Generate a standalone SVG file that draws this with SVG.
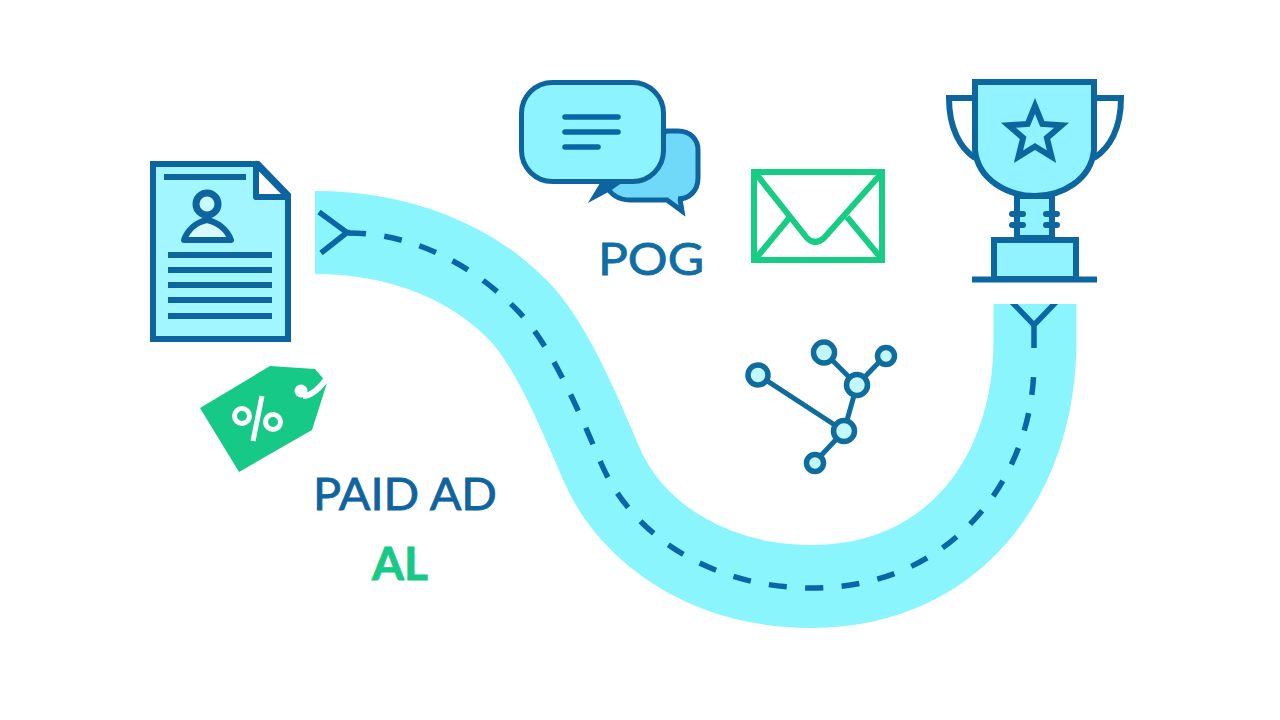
<svg xmlns="http://www.w3.org/2000/svg" width="1280" height="720" viewBox="0 0 1280 720">
<defs><clipPath id="roadTop"><rect x="980" y="304" width="110" height="60"/></clipPath></defs>
<style>
.b{fill:none;stroke:#0e669f;stroke-width:6}
.f{fill:#90f3ff;stroke:#0e669f;stroke-width:6}
.l{fill:none;stroke:#0a66a6;stroke-width:5.500}
.r{stroke-linecap:round}
.g{fill:none;stroke:#17cd84;stroke-width:6}
.t{font-family:"Lato","Liberation Sans",sans-serif;font-size:45px;stroke-width:.8px}
.n{fill:#c2f8fb;stroke:#0f6d9e;stroke-width:5.500}
.e{stroke:#0f6d9e;stroke-width:5;fill:none}
</style>
<rect width="1280" height="720" fill="#fff"/>
<g id="connectors">
<path id="road" d="M315 232.500C400 232.500 470 262 517 309C550 342 578 409 601 463C633 538 715 586.500 812 586.500C950 586.500 1035 480 1035 340L1035 304" fill="none" stroke="#8bf5fe" stroke-width="83"/>
<path id="route" d="M348 233C410 233 470 262 517 310C550 343 578 409 601 463C633 538 715 588 812 588C950 588 1034 480 1034 362" class="l" stroke-dasharray="18 18.400"/>
<path d="M319 212L347 232.500L321 253M345 232.500H350" class="l"/>
<path d="M1008 298L1034 325L1060 298M1034 325V348" class="l" stroke-width="6" clip-path="url(#roadTop)"/>
</g>
<g id="resume">
<path d="M153 164H258L288 195V339H153Z" fill="#a2f6ff" stroke="#0e649f" stroke-width="6"/>
<path d="M256 164V197H288Z" fill="#fff" stroke="#0e649f" stroke-width="6" stroke-linejoin="round"/>
<path d="M164 177H246M168 255H272M168 270H272M168 285H272M168 300H272M168 316H272" class="b"/>
<circle cx="207" cy="204" r="11" fill="#c8fbff" stroke="#0e649f" stroke-width="7"/>
<path d="M184 240C188 229 197 222 207 220C217 222 227 229 231 240Z" fill="#d6fcff" stroke="#0e649f" stroke-width="6" stroke-linejoin="round"/>
</g>
<g id="tag">
<path d="M200 408L270 366L315 369L327 383L312 430L239 472Z" fill="#17c986"/>
<path d="M303 396C312 396 320 388 328 377" fill="none" stroke="#fff" stroke-width="6"/>
<circle cx="301" cy="391" r="6.500" fill="#fff"/>
<path d="M262 396L253 441" stroke="#fff" stroke-width="5" fill="none"/>
<circle cx="242" cy="416" r="7.500" fill="none" stroke="#fff" stroke-width="5"/>
<circle cx="273" cy="422" r="7.500" fill="none" stroke="#fff" stroke-width="5"/>
</g>
<g id="chat">
<path d="M666 131H678C691 131 698 140 698 150V178C698 191 689 199 678 199H680L682 211L667 200H630C617 200 610 194 605 184L650 150Z" fill="#70d8f9" stroke="#0e649f" stroke-width="5"/>
<rect x="521.500" y="82.500" width="142" height="99" rx="31" fill="#8df3ff" stroke="#0e649f" stroke-width="5"/>
<path d="M603 181L592 199L609 190L622 181Z" fill="#0e649f" stroke="#0e649f" stroke-width="3"/>
<path d="M565 117H618M565 132H618M565 147H598" class="l r"/>
</g>
<g id="mail">
<rect x="754" y="172" width="128" height="88" class="g" fill="#fff"/>
<path d="M757 175L807 238Q815 246 824 238L880 175M757 257L790 217M880 257L847 217" class="g" stroke-width="5" stroke-linejoin="round"/>
</g>
<g id="trophy">
<path d="M975 98H949C949 128 960 148 975 158M1094 98H1121C1121 128 1110 148 1094 158" class="b"/>
<path d="M1017 196H1052V238H1017Z" class="f"/>
<path d="M1012 214H1023M1012 225H1023M1046 214H1057M1046 225H1057" class="b r" stroke-width="5"/>
<path d="M975 82H1094V150C1091 180 1062 196 1035 196C1008 196 978 180 975 150Z" class="f"/>
<path d="M1035 106L1042.300 123.900L1061.600 125.300L1046.900 137.900L1051.500 156.700L1035 146.500L1018.500 156.700L1023.100 137.900L1008.400 125.300L1027.700 123.900Z" fill="#90f3ff" stroke="#0e669f" stroke-width="6"/>
<rect x="994" y="240" width="82" height="39" class="f"/>
<path d="M972 279.500H1097" class="b" stroke-width="5"/>
</g>
<g id="network">
<path d="M758 375L844 431M824 352L857 385L885 356M857 385L844 431L815 462" class="e"/>
<circle cx="758" cy="375" r="10" class="n"/>
<circle cx="824" cy="352.500" r="10.500" class="n"/>
<circle cx="886" cy="356" r="8.500" class="n"/>
<circle cx="857" cy="385" r="10.500" class="n"/>
<circle cx="844" cy="431" r="10.500" class="n"/>
<circle cx="815" cy="463" r="8.500" class="n"/>
</g>
<g id="labels">
<text id="pog" x="598" y="275" class="t" fill="#0f6ea3" stroke="#0f6ea3" textLength="106" lengthAdjust="spacingAndGlyphs">POG</text>
<text id="paid" x="313" y="510" class="t" fill="#0f649f" stroke="#0f649f" textLength="184" lengthAdjust="spacingAndGlyphs">PAID AD</text>
<text id="al" x="372" y="580" class="t" fill="#17c986" stroke="#17c986" style="font-weight:700" textLength="56" lengthAdjust="spacingAndGlyphs">AL</text>
</g>
</svg>
